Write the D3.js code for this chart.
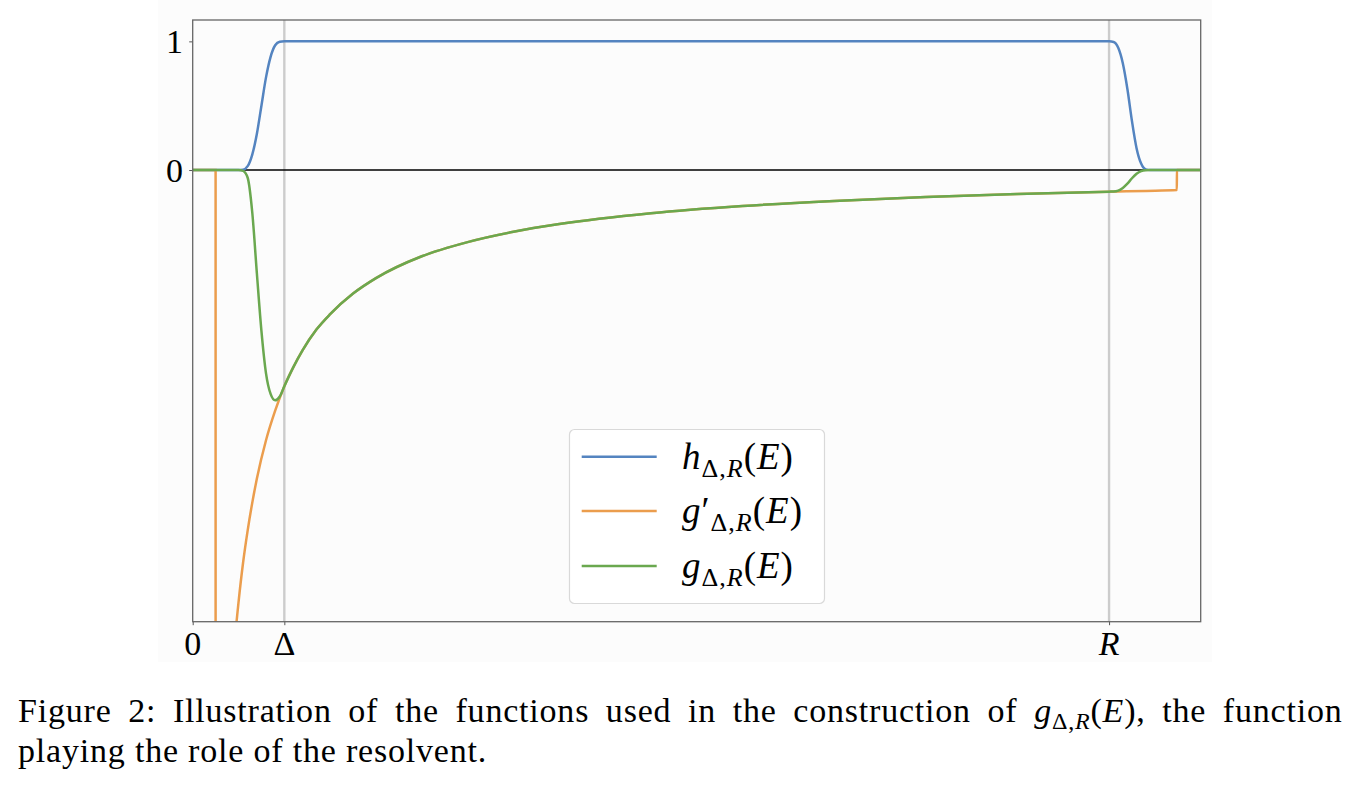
<!DOCTYPE html>
<html>
<head>
<meta charset="utf-8">
<script src="https://cdn.jsdelivr.net/npm/d3@7"></script>
<style>
  body { margin: 0; background: #fff; }
  svg { display: block; }
  text { font-family: "Liberation Serif", "DejaVu Serif", serif; fill: #000; }
</style>
</head>
<body>
<svg id="fig"></svg>
<script>
// Dimensions de la page
const width = 1368,
  height = 794;

// Zone du graphique (pixels de la page)
const plot = { left: 192.7, right: 1200.7, top: 20, bottom: 621.7 };

// Valeurs (Δ = 1, R = 10)
const xDomain = [0, 11];
const yDomain = [-3.51, 1.166];

const hE = [0, 0.5, 0.55, 0.6, 0.65, 0.7, 0.75, 0.8, 0.85, 0.9, 0.95, 1.0,
  10.0, 10.05, 10.1, 10.15, 10.2, 10.25, 10.3, 10.35, 10.4, 10.45, 11];
const hV = [0, 0, 0.003, 0.03, 0.12, 0.28, 0.5, 0.72, 0.88, 0.97, 0.997, 1,
  1, 0.995, 0.95, 0.83, 0.63, 0.38, 0.17, 0.05, 0.005, 0, 0];

const gpE = [0, 0.2499, 0.25, 0.3, 0.35, 0.4, 0.45, 0.5, 0.55, 0.6, 0.7, 0.8, 0.9, 1.0,
  1.1, 1.2, 1.35, 1.5, 1.75, 2.0, 2.5, 3.0, 3.5, 4.0, 5.0, 6.0, 7.0, 8.0, 9.0, 10.0,
  10.4, 10.74, 10.7401, 11];
const gpV = [0, 0, -6.72, -5.6, -4.8, -4.2, -3.73, -3.36, -3.05, -2.8, -2.4, -2.1, -1.87, -1.68,
  -1.53, -1.4, -1.24, -1.12, -0.96, -0.84, -0.67, -0.56, -0.48, -0.42, -0.336, -0.28, -0.24, -0.21, -0.187, -0.168,
  -0.162, -0.156, 0, 0];

const gE = [0, 0.5, 0.55, 0.6, 0.65, 0.7, 0.75, 0.8, 0.85, 0.9, 0.95, 1.0,
  1.1, 1.2, 1.35, 1.5, 1.75, 2.0, 2.5, 3.0, 3.5, 4.0, 5.0, 6.0, 7.0, 8.0, 9.0, 10.0,
  10.05, 10.1, 10.15, 10.2, 10.25, 10.3, 10.35, 10.4, 10.45, 11];
const gV = [0, 0, -0.006, -0.06, -0.33, -0.8, -1.25, -1.58, -1.74, -1.79, -1.76, -1.68,
  -1.53, -1.4, -1.24, -1.12, -0.96, -0.84, -0.67, -0.56, -0.48, -0.42, -0.336, -0.28, -0.24, -0.21, -0.187, -0.168,
  -0.167, -0.16, -0.139, -0.106, -0.064, -0.029, -0.008, -0.001, 0, 0];

const xTicks = [0, 1, 10];
const xTickLabels = ["0", "Δ", "R"];
const yTicks = [0, 1];
const yTickLabels = ["0", "1"];
const vLines = [1, 10];

const seriesNames = ["h", "gp", "g"];
const seriesColors = ["#5484c0", "#eb9d4d", "#6aa84f"];

const svg = d3.select("#fig").attr("width", width).attr("height", height);

// Fond légèrement grisé de la figure
svg.append("rect")
  .attr("x", 158).attr("y", 0)
  .attr("width", 1054).attr("height", 662)
  .attr("fill", "#fcfcfc");

const x = d3.scaleLinear().domain(xDomain).range([plot.left, plot.right]);
const y = d3.scaleLinear().domain(yDomain).range([plot.bottom, plot.top]);

svg.append("clipPath").attr("id", "clip")
  .append("rect")
  .attr("x", plot.left).attr("y", plot.top)
  .attr("width", plot.right - plot.left).attr("height", plot.bottom - plot.top);

const inner = svg.append("g").attr("clip-path", "url(#clip)");

// Lignes verticales en Δ et R
inner.selectAll(".vline").data(vLines).join("line")
  .attr("class", "vline")
  .attr("x1", d => x(d)).attr("x2", d => x(d))
  .attr("y1", plot.top).attr("y2", plot.bottom)
  .attr("stroke", "#cccccc").attr("stroke-width", 2.4);

// Ligne horizontale y = 0
inner.append("line")
  .attr("x1", plot.left).attr("x2", plot.right)
  .attr("y1", y(0)).attr("y2", y(0))
  .attr("stroke", "#000").attr("stroke-width", 1.4);

const line = d3.line()
  .x(d => x(d[0]))
  .y(d => y(d[1]))
  .curve(d3.curveMonotoneX);

const series = [
  d3.zip(hE, hV),
  d3.zip(gpE, gpV),
  d3.zip(gE, gV)
];

inner.selectAll(".curve").data(series).join("path")
  .attr("class", "curve")
  .attr("d", line)
  .attr("fill", "none")
  .attr("stroke", (d, i) => seriesColors[i])
  .attr("stroke-width", 2.5);

// Axes (cadre + graduations)
const xAxis = d3.axisBottom(x).tickValues(xTicks).tickSize(3.5).tickFormat("");
const yAxis = d3.axisLeft(y).tickValues(yTicks).tickSize(3.5).tickFormat("");

svg.append("g").attr("transform", `translate(0,${plot.bottom})`).call(xAxis)
  .call(g => g.select(".domain").remove());
svg.append("g").attr("transform", `translate(${plot.left},0)`).call(yAxis)
  .call(g => g.select(".domain").remove());
svg.selectAll(".tick line").attr("stroke", "#555");

svg.append("rect")
  .attr("x", plot.left).attr("y", plot.top)
  .attr("width", plot.right - plot.left).attr("height", plot.bottom - plot.top)
  .attr("fill", "none").attr("stroke", "#666").attr("stroke-width", 1.3);

// Étiquettes des graduations
svg.selectAll(".xlab").data(xTicks).join("text")
  .attr("class", "xlab")
  .attr("x", d => x(d)).attr("y", 655)
  .attr("text-anchor", "middle")
  .attr("font-size", 34)
  .attr("font-style", (d, i) => xTickLabels[i] === "R" ? "italic" : "normal")
  .text((d, i) => xTickLabels[i]);

svg.selectAll(".ylab").data(yTicks).join("text")
  .attr("class", "ylab")
  .attr("x", 183).attr("y", d => y(d) + 11.5)
  .attr("text-anchor", "end")
  .attr("font-size", 34)
  .text((d, i) => yTickLabels[i]);

// Légende
const legend = svg.append("g").attr("class", "legend");
legend.append("rect")
  .attr("x", 569.5).attr("y", 429.5)
  .attr("width", 255).attr("height", 174)
  .attr("rx", 5)
  .attr("fill", "#fff").attr("fill-opacity", 0.8)
  .attr("stroke", "#d9d9d9").attr("stroke-width", 1.2);

const legendY = [456.7, 511, 566];
seriesNames.forEach((name, i) => {
  legend.append("line")
    .attr("x1", 581.7).attr("x2", 656.7)
    .attr("y1", legendY[i]).attr("y2", legendY[i])
    .attr("stroke", seriesColors[i]).attr("stroke-width", 2.5);

  const t = legend.append("text")
    .attr("x", 682).attr("y", legendY[i] + 12)
    .attr("font-size", 37)
    .attr("letter-spacing", 1);
  const base = name === "h" ? "h" : "g";
  t.append("tspan").attr("font-style", "italic").text(base);
  if (name === "gp") t.append("tspan").text("′");
  appendSub(t, 26, 8);
  t.append("tspan").attr("dy", -8).text("(");
  t.append("tspan").attr("font-style", "italic").text("E");
  t.append("tspan").text(")");
});

// Indice Δ,R en petite taille
function appendSub(t, size, shift) {
  t.append("tspan").attr("font-size", size).attr("dy", shift).text("Δ,");
  t.append("tspan").attr("font-size", size).attr("font-style", "italic").text("R");
}

// Légende de la figure
const cap1 = svg.append("text").attr("x", 18).attr("y", 722)
  .attr("font-size", 34).attr("letter-spacing", 0.8);
cap1.append("tspan").text("Figure 2:  Illustration of the functions used in the construction of ");
cap1.append("tspan").attr("font-style", "italic").text("g");
appendSub(cap1, 24, 7);
cap1.append("tspan").attr("dy", -7).text("(");
cap1.append("tspan").attr("font-style", "italic").text("E");
cap1.append("tspan").text("), the function");

// Justifier la première ligne (deux passes pour corriger la mesure)
const target = 1343 - 18;
const nSpaces = (cap1.text().match(/ /g) || []).length;
let ws = Math.max(0, (target - cap1.node().getBBox().width) / nSpaces);
cap1.attr("word-spacing", ws);
ws += (target - cap1.node().getBBox().width) / nSpaces;
cap1.attr("word-spacing", ws);

svg.append("text").attr("x", 18).attr("y", 762)
  .attr("font-size", 34).attr("letter-spacing", 0.8)
  .text("playing the role of the resolvent.");
</script>
</body>
</html>
